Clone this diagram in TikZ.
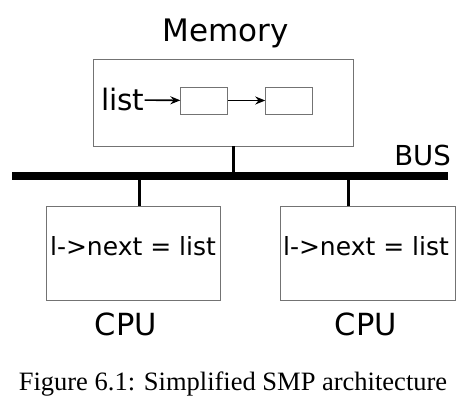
\documentclass[tikz,border=0pt]{standalone}
\usepackage{fontspec}
\setmainfont{DejaVu Sans}
\newfontfamily\capfont{Liberation Serif}
\usepackage{tikz}
\usetikzlibrary{positioning,arrows.meta}

\begin{document}
\begin{tikzpicture}[x=1pt,y=-1pt]
\tikzstyle{every node}+=[inner sep=0pt]
\tikzstyle{box}=[draw=black!55,line width=0.9pt,rectangle]
\tikzstyle{elem}=[draw=black!55,line width=0.9pt,rectangle,minimum width=47pt,minimum height=27pt]
\tikzstyle{wire}=[black,line width=3pt]
\tikzstyle{ptr}=[-{Stealth[length=10pt,width=8pt]},line width=1.6pt]
\tikzstyle{lbl}=[font=\fontsize{29.5}{32}\selectfont]
\useasboundingbox (0,0) rectangle (474,406);
% memory
\node [box,minimum width=260pt,minimum height=87pt] (mem) at (223,102.5) {};
\node [font=\fontsize{31}{34}\selectfont] (memlbl) at (226,33) {Memory};
\node [lbl,anchor=west] (list) at (101,100) {list};
\node [elem] (e1) at (204.3,100.5) {};
\node [elem] (e2) at (289.2,100.5) {};
\draw [ptr] (list) -- (e1);
\draw [ptr] (e1) -- (e2);
% bus
\coordinate (busL) at (12,176);
\coordinate (busR) at (448,176);
\draw [black,line width=8pt] (busL) -- (busR);
\node [font=\fontsize{27.5}{30}\selectfont,anchor=south east] (buslbl) at (451,166) {BUS};
\coordinate (mtap) at (233,176);
\draw [wire] (mtap |- mem.south) -- (mtap);
% cpus
\node [box,minimum width=174pt,minimum height=94pt] (cpu1) at (133,253) {};
\node [box,minimum width=175pt,minimum height=94pt] (cpu2) at (367.5,253) {};
\node [font=\fontsize{25}{28}\selectfont] (code1) at (133,246.5) {l->next = list};
\node [font=\fontsize{25}{28}\selectfont] (code2) at (366,246.5) {l->next = list};
\coordinate (tap1) at (139,176);
\coordinate (tap2) at (348,176);
\draw [wire] (tap1) -- (tap1 |- cpu1.north);
\draw [wire] (tap2) -- (tap2 |- cpu2.north);
\node [font=\fontsize{30.5}{34}\selectfont] (cpulbl1) at (126,324) {CPU};
\node [font=\fontsize{30.5}{34}\selectfont] (cpulbl2) at (366,324) {CPU};
% caption
\node [font=\capfont\fontsize{26.5}{30}\selectfont] (cap) at (233,384) {Figure 6.1: Simplified SMP architecture};
\end{tikzpicture}
\end{document}
